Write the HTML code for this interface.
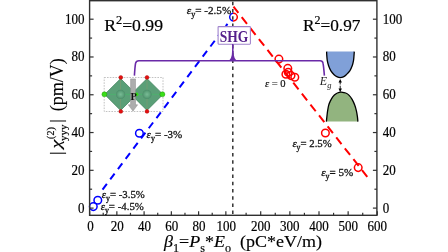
<!DOCTYPE html><html><head><meta charset="utf-8"><style>html,body{margin:0;padding:0;background:#fff;overflow:hidden}svg{display:block}text{font-family:"Liberation Serif","Times New Roman",serif}</style></head><body>
<svg width="448" height="252" viewBox="0 0 448 252">
<rect width="448" height="252" fill="#fff"/>
<g id="crystal">
<rect x="104.2" y="77.5" width="58.8" height="34" fill="none" stroke="#a8a8a8" stroke-width="0.7" stroke-dasharray="1.6,1.2"/>
<defs><radialGradient id="ctr" cx="0.5" cy="0.5" r="0.5"><stop offset="0" stop-color="#78bb95"/><stop offset="0.6" stop-color="#5fa47d"/><stop offset="1" stop-color="#4b8d69"/></radialGradient></defs>
<polygon points="104.6,94.4 120.6,78.6 136.6,94.4 120.6,110.4" fill="#5a9f77" stroke="#3f7f5b" stroke-width="0.7"/>
<path d="M104.6,94.4 L136.6,94.4" stroke="#46b96a" stroke-width="0.6"/>
<path d="M120.6,78.6 L120.6,110.4" stroke="#8a9a70" stroke-width="0.5"/>
<circle cx="120.6" cy="94.4" r="4.6" fill="url(#ctr)"/>
<polygon points="131.0,94.4 147.0,78.6 163.0,94.4 147.0,110.4" fill="#5a9f77" stroke="#3f7f5b" stroke-width="0.7"/>
<path d="M131.0,94.4 L163.0,94.4" stroke="#46b96a" stroke-width="0.6"/>
<path d="M147.0,78.6 L147.0,110.4" stroke="#8a9a70" stroke-width="0.5"/>
<circle cx="147.0" cy="94.4" r="4.6" fill="url(#ctr)"/>
<polygon points="130.6,78.9 135.5,78.9 135.5,104.8 137.6,104.8 133.0,111.1 128.3,104.8 130.6,104.8" fill="#adadad" stroke="#8a8a8a" stroke-width="0.5"/>
<circle cx="120.8" cy="77.4" r="1.95" fill="#e41010" stroke="#a00" stroke-width="0.4"/>
<circle cx="120.8" cy="111.4" r="1.95" fill="#e41010" stroke="#a00" stroke-width="0.4"/>
<circle cx="147.0" cy="77.4" r="1.95" fill="#e41010" stroke="#a00" stroke-width="0.4"/>
<circle cx="147.0" cy="111.4" r="1.95" fill="#e41010" stroke="#a00" stroke-width="0.4"/>
<circle cx="104.4" cy="94.3" r="2.5" fill="#3ade18" stroke="#1a9000" stroke-width="0.4"/>
<circle cx="162.4" cy="94.3" r="2.5" fill="#3ade18" stroke="#1a9000" stroke-width="0.4"/>
<circle cx="136.6" cy="94.4" r="1.8" fill="#35dd14"/>
<text x="130.5" y="100.3" font-size="10.5" font-weight="bold" fill="#111">P</text>
</g>
<line x1="232.8" y1="0.7" x2="232.8" y2="215.3" stroke="#333" stroke-width="1.5" stroke-dasharray="3.5,3.7" stroke-dashoffset="6.1"/>
<line x1="227.5" y1="23.8" x2="101.3" y2="191.2" stroke="#0000ff" stroke-width="2" stroke-dasharray="7.2,5.6" stroke-dashoffset="4.4"/>
<line x1="233.5" y1="6.7" x2="368.6" y2="178.5" stroke="#ff0000" stroke-width="2" stroke-dasharray="8.5,5.4" stroke-dashoffset="0.6"/>
<rect x="218.1" y="26.6" width="32.3" height="17.6" rx="0.6" fill="#fff" stroke="#a084cc" stroke-width="1.1"/>
<text x="234.1" y="41.5" font-size="15.8" font-weight="bold" fill="#56228c" text-anchor="middle" textLength="28.6" lengthAdjust="spacingAndGlyphs">SHG</text>
<path d="M326.60,51.60 C326.63,52.27 326.68,54.08 326.80,55.60 C326.92,57.12 327.00,59.00 327.30,60.70 C327.60,62.40 328.00,64.10 328.60,65.80 C329.20,67.50 329.98,69.42 330.90,70.90 C331.82,72.38 333.03,73.70 334.10,74.70 C335.17,75.70 336.28,76.42 337.30,76.90 C338.32,77.38 339.20,77.60 340.20,77.60 C341.20,77.60 342.28,77.38 343.30,76.90 C344.32,76.42 345.22,75.70 346.30,74.70 C347.38,73.70 348.82,72.38 349.80,70.90 C350.78,69.42 351.58,67.50 352.20,65.80 C352.82,64.10 353.20,62.40 353.50,60.70 C353.80,59.00 353.87,57.12 354.00,55.60 C354.13,54.08 354.25,52.27 354.30,51.60 Z" fill="#80a0d8" stroke="none"/>
<path d="M326.60,51.60 C326.63,52.27 326.68,54.08 326.80,55.60 C326.92,57.12 327.00,59.00 327.30,60.70 C327.60,62.40 328.00,64.10 328.60,65.80 C329.20,67.50 329.98,69.42 330.90,70.90 C331.82,72.38 333.03,73.70 334.10,74.70 C335.17,75.70 336.28,76.42 337.30,76.90 C338.32,77.38 339.20,77.60 340.20,77.60 C341.20,77.60 342.28,77.38 343.30,76.90 C344.32,76.42 345.22,75.70 346.30,74.70 C347.38,73.70 348.82,72.38 349.80,70.90 C350.78,69.42 351.58,67.50 352.20,65.80 C352.82,64.10 353.20,62.40 353.50,60.70 C353.80,59.00 353.87,57.12 354.00,55.60 C354.13,54.08 354.25,52.27 354.30,51.60" fill="none" stroke="#000" stroke-width="1.3"/>
<path d="M326.40,121.60 C326.48,120.77 326.70,118.38 326.90,116.60 C327.10,114.82 327.30,112.82 327.60,110.90 C327.90,108.98 328.23,106.77 328.70,105.10 C329.17,103.43 329.70,102.32 330.40,100.90 C331.10,99.48 331.95,97.80 332.90,96.60 C333.85,95.40 334.97,94.42 336.10,93.70 C337.23,92.98 338.82,92.57 339.70,92.30 C340.58,92.03 340.40,91.98 341.40,92.10 C342.40,92.22 344.45,92.50 345.70,93.00 C346.95,93.50 347.83,94.03 348.90,95.10 C349.97,96.17 351.13,97.73 352.10,99.40 C353.07,101.07 353.98,103.18 354.70,105.10 C355.42,107.02 355.95,108.98 356.40,110.90 C356.85,112.82 357.15,114.82 357.40,116.60 C357.65,118.38 357.82,120.77 357.90,121.60 Z" fill="#92b47f" stroke="none"/>
<path d="M326.40,121.60 C326.48,120.77 326.70,118.38 326.90,116.60 C327.10,114.82 327.30,112.82 327.60,110.90 C327.90,108.98 328.23,106.77 328.70,105.10 C329.17,103.43 329.70,102.32 330.40,100.90 C331.10,99.48 331.95,97.80 332.90,96.60 C333.85,95.40 334.97,94.42 336.10,93.70 C337.23,92.98 338.82,92.57 339.70,92.30 C340.58,92.03 340.40,91.98 341.40,92.10 C342.40,92.22 344.45,92.50 345.70,93.00 C346.95,93.50 347.83,94.03 348.90,95.10 C349.97,96.17 351.13,97.73 352.10,99.40 C353.07,101.07 353.98,103.18 354.70,105.10 C355.42,107.02 355.95,108.98 356.40,110.90 C356.85,112.82 357.15,114.82 357.40,116.60 C357.65,118.38 357.82,120.77 357.90,121.60" fill="none" stroke="#000" stroke-width="1.3"/>
<line x1="340.2" y1="81" x2="340.2" y2="89.5" stroke="#000" stroke-width="0.9" stroke-dasharray="3.5,1.2"/>
<polygon points="340.2,79 338.5,82.4 341.9,82.4" fill="#000"/>
<polygon points="340.2,92.2 338.5,88.6 341.9,88.6" fill="#000"/>
<text x="319.8" y="84.5" font-size="12" font-style="italic" fill="#222">E<tspan font-size="8.5" dy="3">g</tspan></text>
<circle cx="278.9" cy="59.1" r="3.8" fill="none" stroke="#ff0000" stroke-width="1.5"/>
<circle cx="287.8" cy="68.4" r="3.8" fill="none" stroke="#ff0000" stroke-width="1.5"/>
<circle cx="288.2" cy="72.2" r="3.8" fill="none" stroke="#ff0000" stroke-width="1.5"/>
<circle cx="285.9" cy="74.3" r="3.8" fill="none" stroke="#ff0000" stroke-width="1.5"/>
<circle cx="291.0" cy="75.6" r="3.8" fill="none" stroke="#ff0000" stroke-width="1.5"/>
<circle cx="294.8" cy="77.3" r="3.8" fill="none" stroke="#ff0000" stroke-width="1.5"/>
<circle cx="325.4" cy="133.0" r="3.8" fill="none" stroke="#ff0000" stroke-width="1.5"/>
<circle cx="358.2" cy="167.6" r="3.8" fill="none" stroke="#ff0000" stroke-width="1.5"/>
<circle cx="139.4" cy="133.2" r="3.8" fill="none" stroke="#0000ff" stroke-width="1.5"/>
<circle cx="97.8" cy="200.3" r="3.8" fill="none" stroke="#0000ff" stroke-width="1.5"/>
<circle cx="93.3" cy="206.6" r="3.8" fill="none" stroke="#0000ff" stroke-width="1.5"/>
<defs><clipPath id="cl"><rect x="80" y="0" width="153.1" height="220"/></clipPath><clipPath id="cr"><rect x="233.1" y="0" width="150" height="220"/></clipPath></defs>
<circle cx="233.5" cy="17.1" r="3.8" fill="none" stroke="#0000ff" stroke-width="1.5" clip-path="url(#cl)"/>
<circle cx="233.5" cy="17.1" r="3.8" fill="none" stroke="#ff0000" stroke-width="1.5" clip-path="url(#cr)"/>
<path d="M134.4,75.6 C134.7,71 135.1,65.5 135.6,63.2 Q136.2,60.7 138.8,60.7 L320.2,60.7 Q322.6,60.7 323.0,63.2 C323.5,65.5 324.0,71 324.4,75.6" fill="none" stroke="#6a2aa8" stroke-width="1.6"/>
<path d="M232.8,44 L232.8,52" stroke="#6a2aa8" stroke-width="1.5"/>
<path d="M232.05,51 Q232.05,59.2 228.2,60.7 L237.4,60.7 Q233.55,59.2 233.55,51 Z" fill="#6a2aa8"/>
<rect x="89.6" y="0.7" width="287.29999999999995" height="214.60000000000002" fill="none" stroke="#303030" stroke-width="1.4"/>
<line x1="89.6" y1="208.10" x2="93.6" y2="208.10" stroke="#303030" stroke-width="1.2"/>
<line x1="376.9" y1="208.10" x2="372.9" y2="208.10" stroke="#303030" stroke-width="1.2"/>
<text transform="translate(84.60,212.60) scale(0.93,1)" font-size="14" text-anchor="end" stroke="#000" stroke-width="0.2">0</text>
<text transform="translate(382.80,212.60) scale(0.93,1)" font-size="14" text-anchor="start" stroke="#000" stroke-width="0.2">0</text>
<line x1="89.6" y1="189.21" x2="92.1" y2="189.21" stroke="#303030" stroke-width="1.2"/>
<line x1="376.9" y1="189.21" x2="374.4" y2="189.21" stroke="#303030" stroke-width="1.2"/>
<line x1="89.6" y1="170.32" x2="93.6" y2="170.32" stroke="#303030" stroke-width="1.2"/>
<line x1="376.9" y1="170.32" x2="372.9" y2="170.32" stroke="#303030" stroke-width="1.2"/>
<text transform="translate(84.60,174.82) scale(0.93,1)" font-size="14" text-anchor="end" stroke="#000" stroke-width="0.2">20</text>
<text transform="translate(382.80,174.82) scale(0.93,1)" font-size="14" text-anchor="start" stroke="#000" stroke-width="0.2">20</text>
<line x1="89.6" y1="151.43" x2="92.1" y2="151.43" stroke="#303030" stroke-width="1.2"/>
<line x1="376.9" y1="151.43" x2="374.4" y2="151.43" stroke="#303030" stroke-width="1.2"/>
<line x1="89.6" y1="132.54" x2="93.6" y2="132.54" stroke="#303030" stroke-width="1.2"/>
<line x1="376.9" y1="132.54" x2="372.9" y2="132.54" stroke="#303030" stroke-width="1.2"/>
<text transform="translate(84.60,137.04) scale(0.93,1)" font-size="14" text-anchor="end" stroke="#000" stroke-width="0.2">40</text>
<text transform="translate(382.80,137.04) scale(0.93,1)" font-size="14" text-anchor="start" stroke="#000" stroke-width="0.2">40</text>
<line x1="89.6" y1="113.65" x2="92.1" y2="113.65" stroke="#303030" stroke-width="1.2"/>
<line x1="376.9" y1="113.65" x2="374.4" y2="113.65" stroke="#303030" stroke-width="1.2"/>
<line x1="89.6" y1="94.76" x2="93.6" y2="94.76" stroke="#303030" stroke-width="1.2"/>
<line x1="376.9" y1="94.76" x2="372.9" y2="94.76" stroke="#303030" stroke-width="1.2"/>
<text transform="translate(84.60,99.26) scale(0.93,1)" font-size="14" text-anchor="end" stroke="#000" stroke-width="0.2">60</text>
<text transform="translate(382.80,99.26) scale(0.93,1)" font-size="14" text-anchor="start" stroke="#000" stroke-width="0.2">60</text>
<line x1="89.6" y1="75.87" x2="92.1" y2="75.87" stroke="#303030" stroke-width="1.2"/>
<line x1="376.9" y1="75.87" x2="374.4" y2="75.87" stroke="#303030" stroke-width="1.2"/>
<line x1="89.6" y1="56.98" x2="93.6" y2="56.98" stroke="#303030" stroke-width="1.2"/>
<line x1="376.9" y1="56.98" x2="372.9" y2="56.98" stroke="#303030" stroke-width="1.2"/>
<text transform="translate(84.60,61.48) scale(0.93,1)" font-size="14" text-anchor="end" stroke="#000" stroke-width="0.2">80</text>
<text transform="translate(382.80,61.48) scale(0.93,1)" font-size="14" text-anchor="start" stroke="#000" stroke-width="0.2">80</text>
<line x1="89.6" y1="38.09" x2="92.1" y2="38.09" stroke="#303030" stroke-width="1.2"/>
<line x1="376.9" y1="38.09" x2="374.4" y2="38.09" stroke="#303030" stroke-width="1.2"/>
<line x1="89.6" y1="19.20" x2="93.6" y2="19.20" stroke="#303030" stroke-width="1.2"/>
<line x1="376.9" y1="19.20" x2="372.9" y2="19.20" stroke="#303030" stroke-width="1.2"/>
<text transform="translate(84.60,23.70) scale(0.93,1)" font-size="14" text-anchor="end" stroke="#000" stroke-width="0.2">100</text>
<text transform="translate(382.80,23.70) scale(0.93,1)" font-size="14" text-anchor="start" stroke="#000" stroke-width="0.2">100</text>
<line x1="89.60" y1="215.3" x2="89.60" y2="211.3" stroke="#303030" stroke-width="1.2"/>
<text transform="translate(90.60,230.80) scale(0.93,1)" font-size="14" text-anchor="middle" stroke="#000" stroke-width="0.2">0</text>
<line x1="103.22" y1="215.3" x2="103.22" y2="212.8" stroke="#303030" stroke-width="1.2"/>
<line x1="116.85" y1="215.3" x2="116.85" y2="211.3" stroke="#303030" stroke-width="1.2"/>
<text transform="translate(117.15,230.80) scale(0.93,1)" font-size="14" text-anchor="middle" stroke="#000" stroke-width="0.2">20</text>
<line x1="130.47" y1="215.3" x2="130.47" y2="212.8" stroke="#303030" stroke-width="1.2"/>
<line x1="144.10" y1="215.3" x2="144.10" y2="211.3" stroke="#303030" stroke-width="1.2"/>
<text transform="translate(144.40,230.80) scale(0.93,1)" font-size="14" text-anchor="middle" stroke="#000" stroke-width="0.2">40</text>
<line x1="157.72" y1="215.3" x2="157.72" y2="212.8" stroke="#303030" stroke-width="1.2"/>
<line x1="171.35" y1="215.3" x2="171.35" y2="211.3" stroke="#303030" stroke-width="1.2"/>
<text transform="translate(171.65,230.80) scale(0.93,1)" font-size="14" text-anchor="middle" stroke="#000" stroke-width="0.2">60</text>
<line x1="184.97" y1="215.3" x2="184.97" y2="212.8" stroke="#303030" stroke-width="1.2"/>
<line x1="198.60" y1="215.3" x2="198.60" y2="211.3" stroke="#303030" stroke-width="1.2"/>
<text transform="translate(198.90,230.80) scale(0.93,1)" font-size="14" text-anchor="middle" stroke="#000" stroke-width="0.2">80</text>
<line x1="212.22" y1="215.3" x2="212.22" y2="212.8" stroke="#303030" stroke-width="1.2"/>
<line x1="225.85" y1="215.3" x2="225.85" y2="211.3" stroke="#303030" stroke-width="1.2"/>
<text transform="translate(226.15,230.80) scale(0.93,1)" font-size="14" text-anchor="middle" stroke="#000" stroke-width="0.2">100</text>
<line x1="246.12" y1="215.3" x2="246.12" y2="212.8" stroke="#303030" stroke-width="1.2"/>
<line x1="260.70" y1="215.3" x2="260.70" y2="211.3" stroke="#303030" stroke-width="1.2"/>
<text transform="translate(260.70,230.80) scale(0.93,1)" font-size="14" text-anchor="middle" stroke="#000" stroke-width="0.2">200</text>
<line x1="275.27" y1="215.3" x2="275.27" y2="212.8" stroke="#303030" stroke-width="1.2"/>
<line x1="289.85" y1="215.3" x2="289.85" y2="211.3" stroke="#303030" stroke-width="1.2"/>
<text transform="translate(289.85,230.80) scale(0.93,1)" font-size="14" text-anchor="middle" stroke="#000" stroke-width="0.2">300</text>
<line x1="304.42" y1="215.3" x2="304.42" y2="212.8" stroke="#303030" stroke-width="1.2"/>
<line x1="319.00" y1="215.3" x2="319.00" y2="211.3" stroke="#303030" stroke-width="1.2"/>
<text transform="translate(319.00,230.80) scale(0.93,1)" font-size="14" text-anchor="middle" stroke="#000" stroke-width="0.2">400</text>
<line x1="333.57" y1="215.3" x2="333.57" y2="212.8" stroke="#303030" stroke-width="1.2"/>
<line x1="348.15" y1="215.3" x2="348.15" y2="211.3" stroke="#303030" stroke-width="1.2"/>
<text transform="translate(348.15,230.80) scale(0.93,1)" font-size="14" text-anchor="middle" stroke="#000" stroke-width="0.2">500</text>
<line x1="362.72" y1="215.3" x2="362.72" y2="212.8" stroke="#303030" stroke-width="1.2"/>
<line x1="377.30" y1="215.3" x2="377.30" y2="211.3" stroke="#303030" stroke-width="1.2"/>
<text transform="translate(377.30,230.80) scale(0.93,1)" font-size="14" text-anchor="middle" stroke="#000" stroke-width="0.2">600</text>
<g transform="translate(186.77,13.60) scale(1.0627,1)"><text font-size="10.5" fill="#111" stroke="#111" stroke-width="0.28"><tspan font-style="italic">ε</tspan><tspan font-size="7.6" dy="3" >y</tspan><tspan dy="-3"  xml:space="preserve">= -2.5%</tspan></text></g>
<g transform="translate(146.57,138.40) scale(1.0224,1)"><text font-size="10.8" fill="#111" stroke="#111" stroke-width="0.28"><tspan font-style="italic">ε</tspan><tspan font-size="7.8" dy="3" >y</tspan><tspan dy="-3"  xml:space="preserve">= -3%</tspan></text></g>
<g transform="translate(101.87,198.00) scale(1.0265,1)"><text font-size="10.5" fill="#111" stroke="#111" stroke-width="0.28"><tspan font-style="italic">ε</tspan><tspan font-size="7.6" dy="3" >y</tspan><tspan dy="-3"  xml:space="preserve">= -3.5%</tspan></text></g>
<g transform="translate(100.67,209.60) scale(1.0313,1)"><text font-size="10.5" fill="#111" stroke="#111" stroke-width="0.28"><tspan font-style="italic">ε</tspan><tspan font-size="7.6" dy="3" >y</tspan><tspan dy="-3"  xml:space="preserve">= -4.5%</tspan></text></g>
<g transform="translate(292.38,146.50) scale(0.9968,1)"><text font-size="10.8" fill="#111" stroke="#111" stroke-width="0.28"><tspan font-style="italic">ε</tspan><tspan font-size="7.8" dy="3" >y</tspan><tspan dy="-3"  xml:space="preserve">= 2.5%</tspan></text></g>
<g transform="translate(321.27,176.20) scale(1.0712,1)"><text font-size="10.3" fill="#111" stroke="#111" stroke-width="0.28"><tspan font-style="italic">ε</tspan><tspan font-size="7.4" dy="3" >y</tspan><tspan dy="-3"  xml:space="preserve">= 5%</tspan></text></g>
<g transform="translate(264.88,86.70) scale(0.9831,1)"><text font-size="10.8" fill="#111" stroke="#111" stroke-width="0.2"><tspan font-style="italic">ε</tspan> = 0</text></g>
<g transform="translate(104.21,30.80) scale(1.0276,1)"><text font-size="17.2" fill="#000" stroke="#000" stroke-width="0.2">R<tspan font-size="12" dy="-6.4">2</tspan><tspan dy="6.4">=0.99</tspan></text></g>
<g transform="translate(302.92,30.80) scale(1.0035,1)"><text font-size="17.2" fill="#000" stroke="#000" stroke-width="0.2">R<tspan font-size="12" dy="-6.4">2</tspan><tspan dy="6.4">=0.97</tspan></text></g>
<g transform="translate(164.00,246.80) scale(1.0597,1)"><text font-size="17" stroke="#000" stroke-width="0.15"><tspan font-style="italic">β</tspan><tspan font-size="11.5" dy="5">1</tspan><tspan dy="-5">=</tspan><tspan font-style="italic">P</tspan><tspan font-size="11.5" dy="5">s</tspan><tspan dy="-5">*</tspan><tspan font-style="italic">E</tspan><tspan font-size="11.5" dy="5">o</tspan><tspan dy="-5" xml:space="preserve">  (pC*eV/m)</tspan></text></g>
<g transform="rotate(-90)">
<text x="-154.9" y="62.1" font-size="16.8" stroke="#000" stroke-width="0.15">|</text>
<text x="-119.3" y="62.1" font-size="16.8" text-anchor="end" stroke="#000" stroke-width="0.15">|</text>
<text transform="translate(-148.6,61.4) scale(1.3,1)" font-size="15.5" font-style="italic" stroke="#000" stroke-width="0.15">χ</text>
<text x="-138.9" y="54.1" font-size="10" stroke="#000" stroke-width="0.15">(2)</text>
<text x="-141.0" y="66.9" font-size="11" stroke="#000" stroke-width="0.15">yyy</text>
<text x="-111.2" y="62.9" font-size="18" stroke="#000" stroke-width="0.15">(pm/V)</text>
</g>
</svg></body></html>
